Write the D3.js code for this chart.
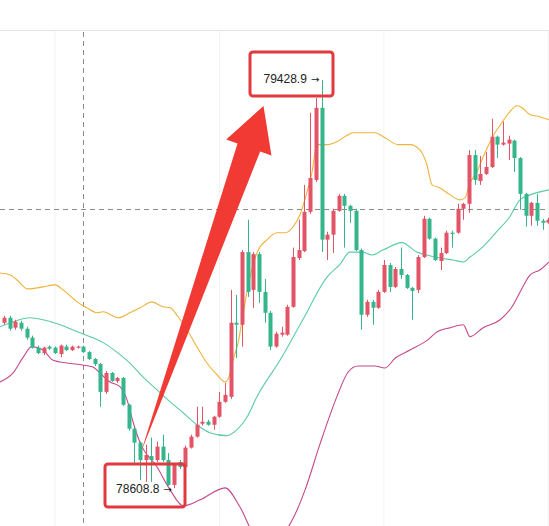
<!DOCTYPE html>
<html>
<head>
<meta charset="utf-8">
<script src="https://cdn.jsdelivr.net/npm/d3@7"></script>
<style>
  html, body { margin: 0; padding: 0; background: #fff; }
  svg { display: block; }
</style>
</head>
<body>
<svg id="chart"></svg>
<script>
// candles, one per index (red = up, green = down)
var open = [78941,78951,78931,78941,78929,78911,78891,78880,78893,78891,78878,78893,78886,78891,78893,78882,78868,78858,78802,78840,
    78824,78830,78776,78728,78700,78665,78673,78665,78692,78665,78615,78661,78651,78690,78712,78738,78742,78736,78752,78782,
    78792,78941,78937,79083,79007,79079,79003,78961,78893,78917,78917,78973,79071,79085,79164,79228,79373,79108,79118,79166,
    79196,79176,79166,79087,78957,78983,78971,79003,79057,79013,79049,79037,79011,79007,79073,79150,79110,79065,79081,79122,
    79122,79170,79180,79278,79226,79240,79254,79315,79299,79301,79307,79272,79200,79156,79182,79146,79142]
var close = [78951,78929,78943,78929,78911,78891,78880,78891,78889,78880,78895,78886,78893,78893,78882,78868,78858,78802,78840,78824,
    78830,78776,78728,78700,78665,78675,78665,78692,78665,78615,78655,78651,78690,78712,78736,78742,78736,78752,78782,78796,
    78941,78937,79083,79003,79079,79003,78961,78893,78919,78921,78973,79073,79087,79164,79232,79373,79108,79118,79166,79196,
    79176,79166,79087,78957,78983,78971,79003,79057,79013,79049,79037,79011,79005,79073,79150,79110,79067,79081,79122,79120,
    79170,79180,79278,79228,79240,79254,79315,79299,79303,79309,79272,79200,79156,79182,79146,79142,79148]
var high = [78955,78955,78947,78945,78933,78915,78895,78893,78895,78893,78897,78897,78895,78895,78895,78884,78870,78860,78844,78842,
    78832,78832,78778,78730,78702,78696,78710,78702,78716,78679,78659,78665,78694,78716,78772,78772,78746,78754,78802,78820,
    79007,78997,79087,79148,79083,79083,79029,78965,78923,78933,78977,79092,79148,79218,79363,79393,79428.9,79124,79170,79200,
    79200,79178,79170,79090,78987,78987,79007,79067,79061,79053,79092,79039,79013,79077,79156,79152,79112,79092,79126,79126,
    79180,79182,79288,79288,79276,79284,79351,79317,79345,79317,79309,79274,79202,79184,79200,79150,79152]
var low = [78937,78925,78927,78925,78907,78889,78878,78876,78886,78878,78872,78884,78884,78889,78880,78866,78854,78772,78798,78822,
    78820,78774,78724,78659,78625,78621,78621,78661,78661,78613,78608.8,78647,78649,78688,78710,78734,78734,78726,78750,78780,
    78788,78870,78893,78993,78971,78981,78941,78886,78891,78913,78915,78971,79067,79083,79160,79224,79083,79067,79081,79164,
    79092,79142,79085,78927,78953,78937,78969,79001,79003,79011,79029,79009,78947,79001,79071,79108,79065,79047,79079,79092,
    79120,79148,79162,79218,79218,79238,79252,79272,79297,79268,79244,79168,79134,79136,79136,79128,79140]

// bollinger bands as [candle index, price]
var upperBand = [[-0.7,79041],[1.1,79037],[2.3,79027],[4.2,79009],[6.9,79013],[9,79017],[10.4,79007],[12.9,78983],[14.6,78971],
    [16.4,78961],[17.5,78963],[20.1,78951],[22.2,78961],[24,78971],[26.1,78983],[28,78973],[29.3,78971],[30.7,78953],[32.5,78923],
    [34,78893],[35.8,78860],[37.6,78836],[39,78822],[39.9,78840],[40.4,78866],[41.3,78901],[42.2,78961],[43.4,79033],[44.6,79081],
    [46.4,79108],[48.1,79122],[49.6,79122],[51,79134],[52.2,79158],[53.4,79202],[54.3,79242],[55.2,79299],[57,79299],[58.7,79305],
    [60.7,79319],[61.6,79323],[65.4,79323],[67.2,79313],[69.5,79299],[71.6,79299],[73.4,79288],[74.6,79258],[75.5,79218],
    [76.9,79212],[78.7,79198],[80.4,79188],[81.3,79192],[82.2,79222],[83.4,79244],[84.5,79274],[86.2,79315],[87.8,79343],
    [89.2,79365],[90.5,79377],[91.4,79373],[92.8,79359],[94.5,79355],[96.1,79349]]
var midBand = [[-0.7,78933],[1.6,78943],[4.6,78951],[6.9,78947],[9.9,78937],[12.9,78923],[15.2,78913],[17.5,78901],[19.9,78882],
    [22.2,78860],[24.5,78832],[27,78806],[29.3,78782],[31.6,78760],[34,78736],[36.3,78720],[39.3,78714],[41.1,78726],[42.9,78752],
    [44.6,78792],[48.7,78866],[52.7,78947],[57,79033],[59.3,79059],[61,79083],[63.3,79083],[64.9,79077],[66.8,79087],[70.2,79102],
    [72.8,79083],[74.6,79077],[76.9,79071],[79.2,79067],[81,79063],[82.2,79073],[84.5,79094],[86.9,79124],[89.2,79154],[91,79188],
    [92.8,79198],[96.1,79208]]
var lowerBand = [[-0.7,78822],[1.6,78840],[3.4,78872],[4.9,78893],[6.9,78886],[8.6,78866],[11.1,78860],[13.9,78856],[15.7,78852],
    [16.9,78840],[18.7,78822],[20.5,78812],[21.7,78786],[22.8,78740],[24,78700],[27,78651],[29.3,78605],[31.6,78573],[34.6,78585],
    [39,78609],[41.6,78571],[44.3,78515],[47.8,78505],[51.3,78555],[53.1,78605],[55.7,78696],[58.7,78792],[60.7,78842],[62.4,78854],
    [65.4,78854],[67.2,78850],[69,78870],[71.6,78886],[74.8,78907],[76.4,78923],[78.7,78931],[81,78937],[82.2,78913],[84.5,78931],
    [87.5,78947],[89.6,78973],[91.5,79013],[92.8,79037],[94.5,79047],[96.1,79063]]

var highIdx = 56, lowIdx = 30
var crossIdx = 14, crossPrice = 79170
var gridIdx = [9, 38, 67, 96]

var width = 549, height = 526
var up = "#e25466", down = "#35b58c"

var svg = d3.select("#chart")
    .attr("width", width)
    .attr("height", height)

var x = d3.scaleLinear().domain([0, 96]).range([4, 548.3])
var y = d3.scaleLinear().domain([78608.8, 79428.9]).range([488, 80])

// faint grid + top border
svg.selectAll(".vgrid")
    .data(gridIdx)
    .enter()
    .append("line")
        .attr("x1", d => x(d)).attr("x2", d => x(d))
        .attr("y1", 31).attr("y2", height)
        .attr("stroke", "#f3f3f3")
svg.append("line")
    .attr("x1", 0).attr("x2", width)
    .attr("y1", 30.5).attr("y2", 30.5)
    .attr("stroke", "#e4e4e4")

// crosshair
svg.append("line")
    .attr("x1", Math.round(x(crossIdx)) + 0.5).attr("x2", Math.round(x(crossIdx)) + 0.5)
    .attr("y1", 32).attr("y2", height)
    .attr("stroke", "#8a8a8a")
    .attr("stroke-dasharray", "5,4")
svg.append("line")
    .attr("x1", 0).attr("x2", width)
    .attr("y1", Math.round(y(crossPrice)) + 0.5).attr("y2", Math.round(y(crossPrice)) + 0.5)
    .attr("stroke", "#8a8a8a")
    .attr("stroke-dasharray", "5,4")

// bands
var line = d3.line()
    .x(d => x(d[0]))
    .y(d => y(d[1]))
    .curve(d3.curveMonotoneX)

var bands = [[upperBand, "#eeb33a"], [midBand, "#5ccaa8"], [lowerBand, "#c5478c"]]
svg.selectAll(".band")
    .data(bands)
    .enter()
    .append("path")
        .attr("class", "band")
        .attr("d", d => line(d[0]))
        .attr("fill", "none")
        .attr("stroke", d => d[1])
        .attr("stroke-width", 1.1)

// candles
var candles = d3.range(open.length).map(i => ({
    i: i, o: open[i], c: close[i], h: high[i], l: low[i]
}))

var g = svg.append("g")
g.selectAll(".wick")
    .data(candles)
    .enter()
    .append("line")
        .attr("x1", d => Math.round(x(d.i)) + 0.5)
        .attr("x2", d => Math.round(x(d.i)) + 0.5)
        .attr("y1", d => y(d.h))
        .attr("y2", d => y(d.l))
        .attr("stroke", d => d.c >= d.o ? up : down)
        .attr("stroke-width", 1)
g.selectAll(".body")
    .data(candles)
    .enter()
    .append("rect")
        .attr("x", d => Math.round(x(d.i)) - 1.5)
        .attr("width", 4)
        .attr("y", d => y(Math.max(d.o, d.c)))
        .attr("height", d => Math.max(1.2, Math.abs(y(d.o) - y(d.c))))
        .attr("fill", d => d.c >= d.o ? up : down)

// big arrow from the low to the high
var tail = [x(lowIdx) - 33, y(low[lowIdx]) - 36]
var tip = [x(highIdx) - 58, y(high[highIdx]) + 26]
var ang = Math.atan2(tip[1] - tail[1], tip[0] - tail[0])
var ux = Math.cos(ang), uy = Math.sin(ang), nx = -uy, ny = ux
var headLen = 44, headHalf = 24, shaftHalf = 12
var bx = tip[0] - ux * headLen, by = tip[1] - uy * headLen
var arrowPts = [
    tail,
    [bx - nx * shaftHalf, by - ny * shaftHalf],
    [bx - nx * headHalf, by - ny * headHalf],
    tip,
    [bx + nx * headHalf, by + ny * headHalf],
    [bx + nx * shaftHalf, by + ny * shaftHalf]
]
svg.append("path")
    .attr("d", "M" + arrowPts.map(p => p.join(",")).join("L") + "Z")
    .attr("fill", "#f23a35")

// price labels with boxes
var labels = [
    {text: "79428.9", tx: x(highIdx) - 58, ty: y(high[highIdx]) + 3, bx: 250, by: 52, bw: 83, bh: 44},
    {text: "78608.8", tx: x(lowIdx) - 58, ty: y(low[lowIdx]) + 5, bx: 105, by: 464, bw: 80, bh: 43}
]
svg.selectAll(".lbox")
    .data(labels)
    .enter()
    .append("rect")
        .attr("x", d => d.bx).attr("y", d => d.by)
        .attr("width", d => d.bw).attr("height", d => d.bh)
        .attr("rx", 3)
        .attr("fill", "none")
        .attr("stroke", "#e2393f")
        .attr("stroke-width", 3)
var lt = svg.selectAll(".ltext")
    .data(labels)
    .enter()
    .append("text")
        .attr("x", d => d.tx).attr("y", d => d.ty)
        .attr("font-family", "Arial, 'Liberation Sans', sans-serif")
        .attr("font-size", 12)
        .attr("fill", "#222")
lt.append("tspan").text(d => d.text)
lt.append("tspan")
    .attr("dx", 4)
    .attr("font-family", "'DejaVu Sans', sans-serif")
    .attr("font-size", 10)
    .text("→")
</script>
</body>
</html>
